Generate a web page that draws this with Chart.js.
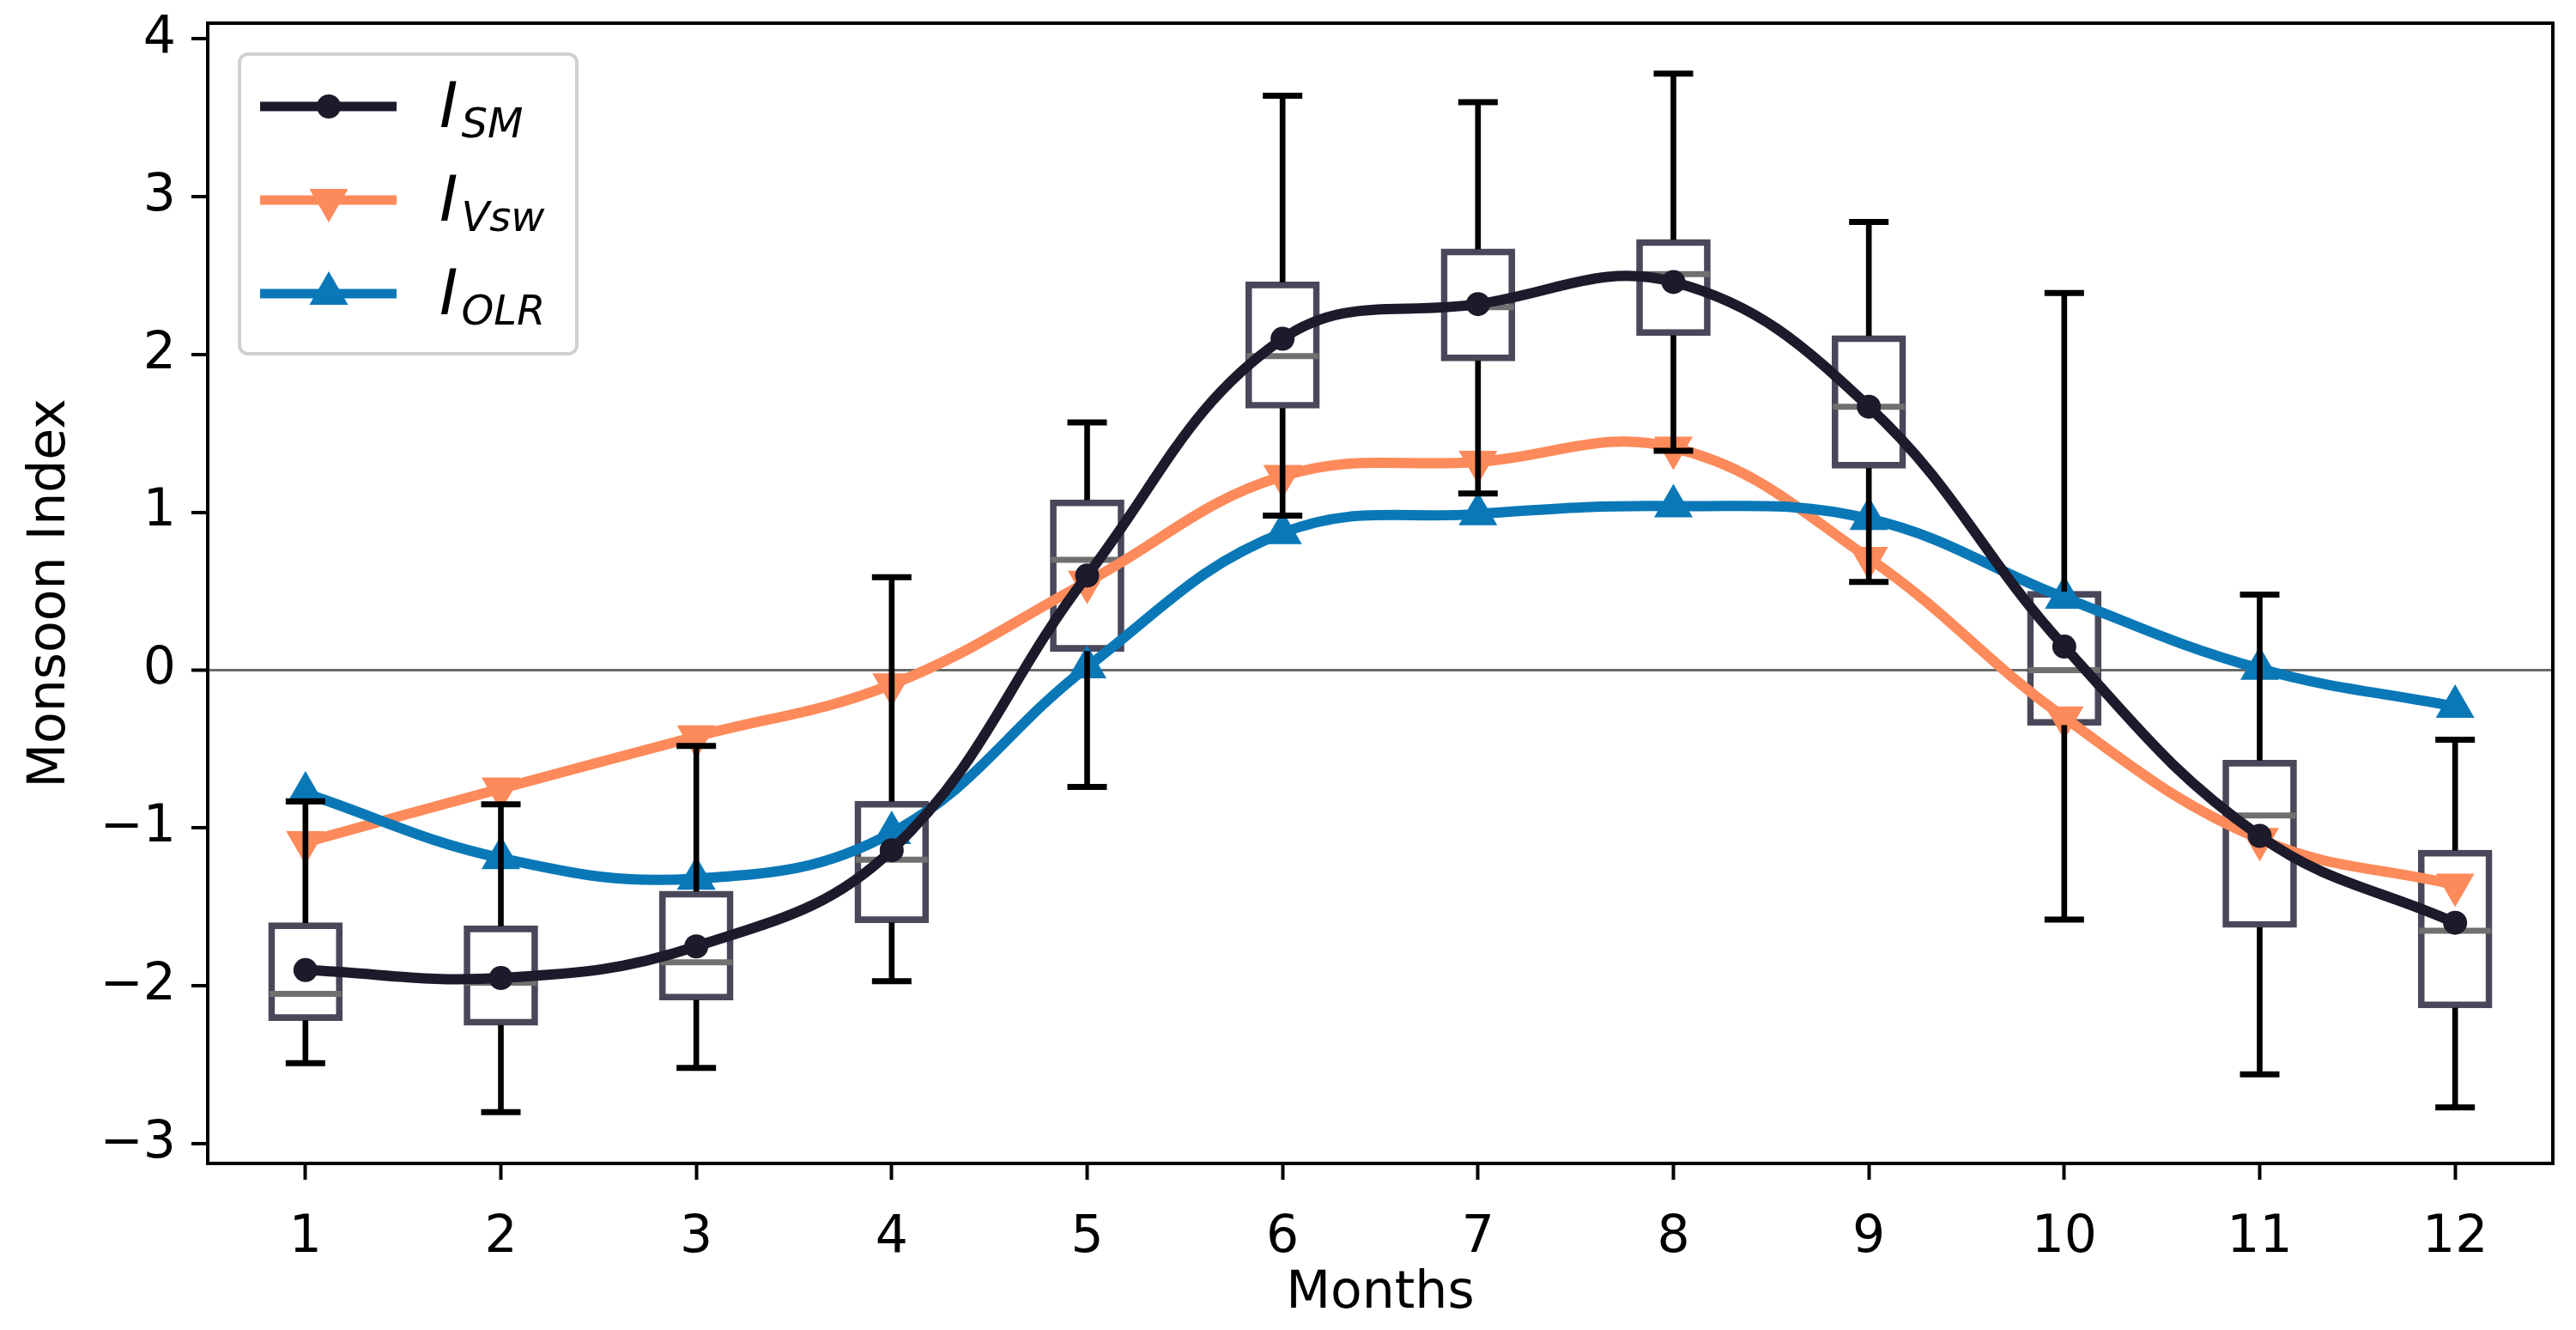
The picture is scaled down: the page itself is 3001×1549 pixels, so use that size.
<!DOCTYPE html>
<html><head><meta charset="utf-8">
<script src="https://cdn.jsdelivr.net/npm/chart.js@4.4.1/dist/chart.umd.min.js"></script>
<style>html,body{margin:0;padding:0;background:#fff;} #wrap{width:3001px;height:1549px;}</style>
</head><body><div id="wrap"><canvas id="c" width="3001" height="1549"></canvas></div>
<script>
// ---- data ----
const months = ['1','2','3','4','5','6','7','8','9','10','11','12'];
const iSM  = [-1.90,-1.95,-1.75,-1.14,0.60,2.10,2.32,2.46,1.67,0.15,-1.05,-1.60];
const iVsw = [-1.09,-0.75,-0.42,-0.09,0.56,1.23,1.32,1.41,0.71,-0.30,-1.07,-1.36];
const iOLR = [-0.78,-1.19,-1.32,-1.03,0.02,0.87,0.99,1.04,0.96,0.46,0.01,-0.23];
const boxQ1     = [-2.22,-2.25,-2.09,-1.60,0.12,1.66,1.96,2.12,1.28,-0.35,-1.63,-2.14];
const boxMedian = [-2.05,-1.98,-1.85,-1.20,0.70,1.99,2.30,2.51,1.67,0.00,-0.92,-1.65];
const boxQ3     = [-1.60,-1.62,-1.40,-0.83,1.08,2.46,2.67,2.73,2.12,0.50,-0.57,-1.14];
const whiskerLow  = [-2.49,-2.80,-2.52,-1.97,-0.74,0.98,1.12,1.39,0.56,-1.58,-2.56,-2.77];
const whiskerHigh = [-0.83,-0.85,-0.48,0.59,1.57,3.64,3.60,3.78,2.84,2.39,0.48,-0.44];
const yTicks = [-3,-2,-1,0,1,2,3,4];
const seriesNames = [['I','SM'],['I','Vsw'],['I','OLR']];
const xTitle = 'Months';
const yTitle = 'Monsoon Index';

// ---- style ----
const FONT = 'DejaVu Sans';
const colSM = '#1c1a2b', colVsw = '#fd8a5a', colOLR = '#0a78b7';
const boxEdge = 'rgba(48,45,66,0.88)', medianCol = '#707070';
Chart.defaults.color = '#000';
Chart.defaults.font.family = FONT;

const framePlugin = {id:'frame', afterDatasetsDraw(chart){
  const {ctx, chartArea:a} = chart;
  ctx.save(); ctx.strokeStyle = '#000'; ctx.lineWidth = 4;
  ctx.strokeRect(a.left, a.top, a.right - a.left, a.bottom - a.top);
  ctx.restore();
}};

function drawMarker(ctx, style, x, y, r, color){
  ctx.fillStyle = color; ctx.beginPath();
  if (style === 'circle') { ctx.arc(x, y, r, 0, Math.PI*2); }
  else {
    const dir = style === 'down' ? -1 : 1;
    ctx.moveTo(x, y - dir*r);
    ctx.lineTo(x + Math.sin(2*Math.PI/3)*r, y + dir*r/2);
    ctx.lineTo(x - Math.sin(2*Math.PI/3)*r, y + dir*r/2);
    ctx.closePath();
  }
  ctx.fill();
}

const legendPlugin = {id:'customLegend', afterDraw(chart){
  const ctx = chart.ctx; ctx.save();
  ctx.beginPath(); ctx.roundRect(279, 63, 393, 349, 10);
  ctx.fillStyle = 'rgba(255,255,255,0.8)'; ctx.fill();
  ctx.lineWidth = 4; ctx.strokeStyle = '#d0d0d0'; ctx.stroke();
  const rows = [124, 233, 342];
  const cols = [colSM, colVsw, colOLR];
  const styles = [['circle',14],['down',26],['up',26]];
  seriesNames.forEach((nm, i) => {
    const y = rows[i];
    ctx.strokeStyle = cols[i]; ctx.lineWidth = 11; ctx.lineCap = 'butt';
    ctx.beginPath(); ctx.moveTo(303, y); ctx.lineTo(462, y); ctx.stroke();
    drawMarker(ctx, styles[i][0], 383, y, styles[i][1], cols[i]);
    ctx.fillStyle = '#000'; ctx.textBaseline = 'alphabetic'; ctx.textAlign = 'left';
    ctx.font = 'italic 73px "' + FONT + '"';
    ctx.fillText(nm[0], 512, y + 24);
    const w = ctx.measureText(nm[0]).width;
    ctx.font = 'italic 48px "' + FONT + '"';
    ctx.fillText(nm[1], 512 + w + 4, y + 36);
  });
  ctx.restore();
}};

const lineCommon = {type:'line', tension:0.4, borderWidth:12, pointBorderWidth:0, fill:false};
const markerOnly = {type:'line', showLine:false, pointStyle:'line', pointRotation:0};

new Chart(document.getElementById('c'), {
  type: 'line',
  data: {
    labels: months,
    datasets: [
      {type:'bar', label:'box', data: months.map((m,i)=>[boxQ1[i], boxQ3[i]]),
        backgroundColor:'rgba(255,255,255,0)', borderColor: boxEdge, borderWidth:7,
        borderSkipped:false, barThickness:86, grouped:false, order:10},
      {...markerOnly, label:'median', data: boxMedian, pointRadius:42, pointBorderWidth:7,
        pointBorderColor: medianCol, pointBackgroundColor: medianCol, order:9},
      {...lineCommon, label:'I_Vsw', data:iVsw, borderColor:colVsw, backgroundColor:colVsw,
        pointStyle:'triangle', pointRotation:180, pointRadius:26, pointBackgroundColor:colVsw, order:6},
      {...lineCommon, label:'I_OLR', data:iOLR, borderColor:colOLR, backgroundColor:colOLR,
        pointStyle:'triangle', pointRotation:0, pointRadius:26, pointBackgroundColor:colOLR, order:5},
      {...lineCommon, label:'I_SM', data:iSM, borderColor:colSM, backgroundColor:colSM,
        pointStyle:'circle', pointRadius:14, pointBackgroundColor:colSM, order:4},
      {type:'bar', label:'whiskerLow', data: months.map((m,i)=>[whiskerLow[i], boxQ1[i]]),
        backgroundColor:'#000', borderWidth:0, barThickness:6, grouped:false, order:2},
      {type:'bar', label:'whiskerHigh', data: months.map((m,i)=>[boxQ3[i], whiskerHigh[i]]),
        backgroundColor:'#000', borderWidth:0, barThickness:6, grouped:false, order:2},
      {...markerOnly, label:'capLow', data: whiskerLow, pointRadius:23, pointBorderWidth:7,
        pointBorderColor:'#000', pointBackgroundColor:'#000', order:1},
      {...markerOnly, label:'capHigh', data: whiskerHigh, pointRadius:23, pointBorderWidth:7,
        pointBorderColor:'#000', pointBackgroundColor:'#000', order:1}
    ]
  },
  options: {
    responsive:false, devicePixelRatio:1, animation:false, events:[],
    layout:{autoPadding:false, padding:{top:27, right:27, left:0, bottom:0}},
    plugins:{legend:{display:false}, tooltip:{enabled:false}},
    scales:{
      x:{type:'category', offset:true,
        grid:{display:true, drawOnChartArea:false, offset:false, tickColor:'#000', tickLength:19, tickWidth:4},
        border:{display:false},
        ticks:{font:{size:60, family:FONT}, color:'#000', padding:32, maxRotation:0, autoSkip:false},
        title:{display:true, text:xTitle, font:{size:60, family:FONT}, color:'#000', padding:{top:0, bottom:6}},
        afterFit(s){ s.height = 194; s.paddingLeft = 0; s.paddingRight = 0; }
      },
      y:{type:'linear', min:-3.125, max:4.1,
        afterBuildTicks(s){ s.ticks = yTicks.map(v=>({value:v})); },
        grid:{display:true, drawOnChartArea:true,
          color: c => (c.tick && c.tick.value === 0) ? '#6a6a6a' : 'rgba(0,0,0,0)',
          lineWidth: c => (c.tick && c.tick.value === 0) ? 3 : 0,
          tickColor:'#000', tickLength:19, tickWidth:4},
        border:{display:false},
        ticks:{font:{size:60, family:FONT}, color:'#000', padding:18,
          callback: v => v < 0 ? '\u2212' + Math.abs(v) : String(v)},
        title:{display:true, text:yTitle, font:{size:60, family:FONT}, color:'#000', padding:{top:23, bottom:0}},
        afterFit(s){ s.width = 242; s.paddingTop = 0; s.paddingBottom = 0; }
      }
    }
  },
  plugins:[framePlugin, legendPlugin]
});
</script>
</body></html>
